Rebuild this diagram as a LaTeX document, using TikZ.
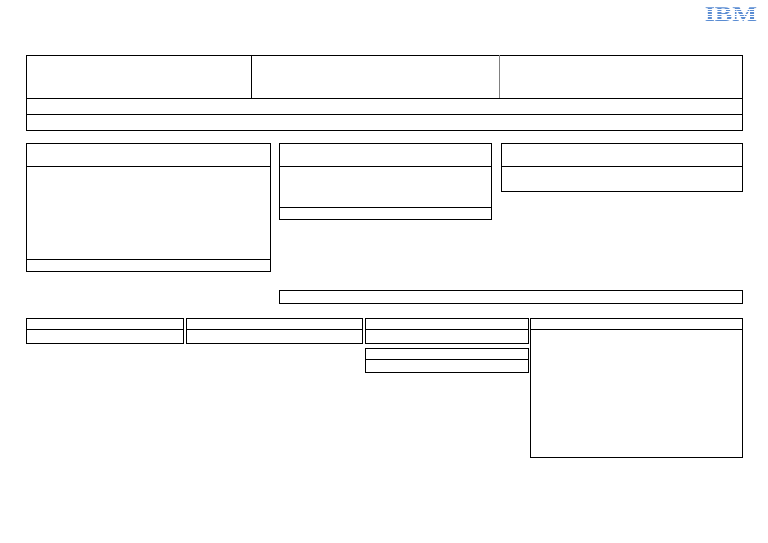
\documentclass[tikz,border=0pt]{standalone}
\usepackage{fontspec}
\setmainfont{Liberation Serif}
\definecolor{ibmblue}{RGB}{90,140,210}
\begin{document}
\begin{tikzpicture}[x=1pt,y=-1pt,bx/.style={draw=black,line width=0.9pt}]
\useasboundingbox (0,0) rectangle (768,543);
\node[font=\bfseries\fontsize{21}{21}\selectfont,text=ibmblue,inner sep=0,anchor=center,xscale=1.25] (logo) at (731,15) {IBM};
\foreach \yy in {9,11.5,14,16.5,19,21.5} \draw[white,line width=0.6pt] (700,\yy) -- (762,\yy);
% top
\draw[bx] (26,55) rectangle (742,130);
\draw[bx] (26,98) -- (742,98);
\draw[bx] (26,114) -- (742,114);
\draw[bx] (251,55) -- (251,98);
\draw[draw=gray,line width=0.9pt] (499,55) -- (499,98);
% second row
\draw[bx] (26,143) rectangle (270,271);
\draw[bx] (26,166) -- (270,166);
\draw[bx] (26,259) -- (270,259);
\draw[bx] (279,143) rectangle (491,219);
\draw[bx] (279,166) -- (491,166);
\draw[bx] (279,207) -- (491,207);
\draw[bx] (501,143) rectangle (742,191);
\draw[bx] (501,166) -- (742,166);
% bar
\draw[bx] (279,290) rectangle (742,303);
% bottom
\foreach \a/\b in {26/183,186/362,365/528} {
  \draw[bx] (\a,318) rectangle (\b,343);
  \draw[bx] (\a,329) -- (\b,329);
}
\draw[bx] (365,348) rectangle (528,372);
\draw[bx] (365,359) -- (528,359);
\draw[bx] (530,318) rectangle (742,457);
\draw[bx] (530,329) -- (742,329);
\end{tikzpicture}
\end{document}
